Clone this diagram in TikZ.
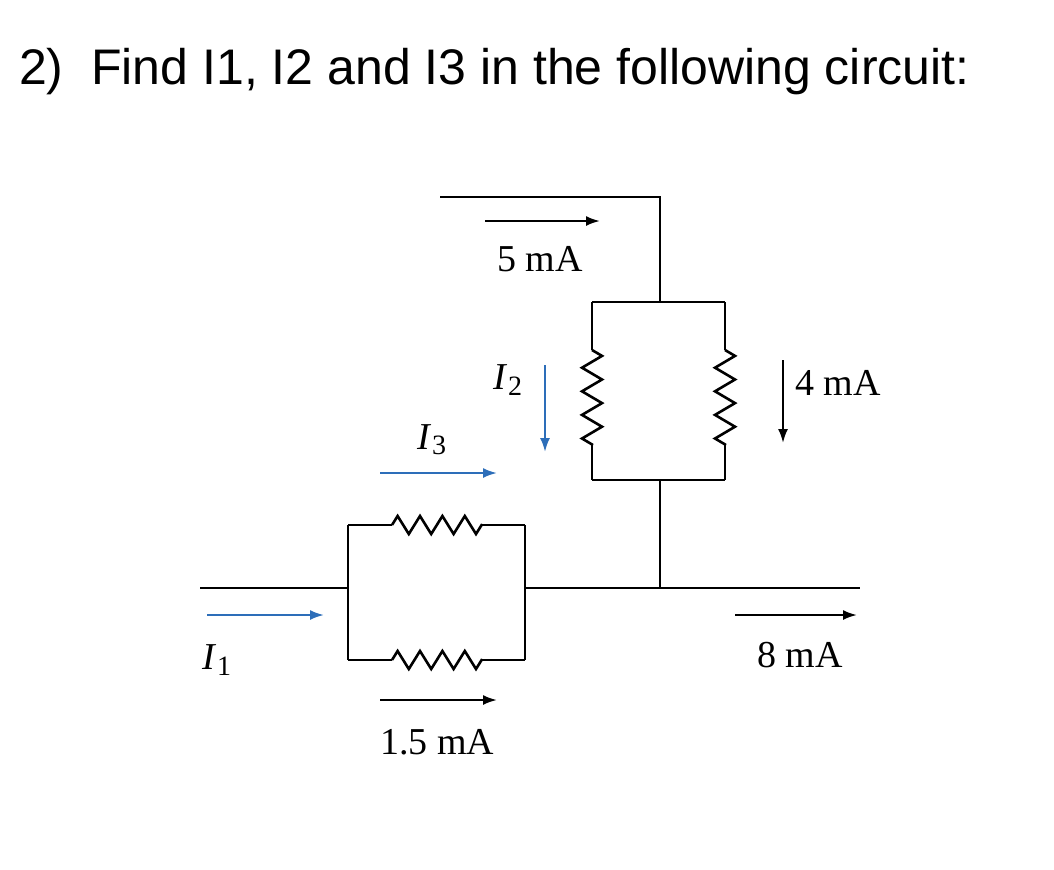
\documentclass[tikz,border=0pt]{standalone}
\usepackage{fontspec}
\setmainfont{Liberation Serif}
\newfontfamily\hsans{Liberation Sans}
\usetikzlibrary{decorations.pathmorphing,arrows.meta}
\definecolor{cblue}{RGB}{45,110,185}
\newcommand{\cur}[1]{\textit{I}\raisebox{-0.3ex}{\fontsize{14}{16}\selectfont #1}}
\begin{document}
\begin{tikzpicture}[x=0.5pt,y=-0.5pt,
  wire/.style={line width=1.3pt},
  resv/.style={line width=1.3pt,decorate,decoration={zigzag,segment length=11.8pt,amplitude=5pt}},
  resh/.style={line width=1.3pt,decorate,decoration={zigzag,segment length=11.2pt,amplitude=4.5pt}},
  cur/.style={line width=1.1pt,-{Latex[length=7pt,width=5pt]}},
  bcur/.style={cur,cblue},
  lab/.style={font=\fontsize{19}{21}\selectfont}]
\useasboundingbox (0,0) rectangle (1054,869);
\node[anchor=west,font=\hsans\fontsize{25}{30}\selectfont] (title) at (12,72) {2)\ \ Find I1, I2 and I3 in the following circuit:};
\coordinate (t0) at (440,197); \coordinate (t1) at (660,197); \coordinate (t2) at (660,302);
\coordinate (b0) at (660,480); \coordinate (b1) at (660,588);
\coordinate (L0) at (200,588); \coordinate (L1) at (348,588);
\coordinate (R0) at (525,588); \coordinate (R1) at (860,588);
\draw[wire] (t0) -- (t1) -- (t2);
\draw[wire] (592,302) -- (725,302);
\draw[wire] (592,480) -- (725,480);
\draw[wire] (592,302) -- (592,350); \draw[resv] (592,350) -- (592,445); \draw[wire] (592,445) -- (592,480);
\draw[wire] (725,302) -- (725,350); \draw[resv] (725,350) -- (725,445); \draw[wire] (725,445) -- (725,480);
\draw[wire] (b0) -- (b1);
\draw[wire] (L0) -- (L1);
\draw[wire] (R0) -- (R1);
\draw[wire] (348,525) -- (348,660);
\draw[wire] (525,525) -- (525,660);
\draw[wire] (348,525) -- (392,525); \draw[resh] (392,525) -- (482,525); \draw[wire] (482,525) -- (525,525);
\draw[wire] (348,660) -- (392,660); \draw[resh] (392,660) -- (482,660); \draw[wire] (482,660) -- (525,660);
\coordinate (a5s) at (485,221); \coordinate (a5e) at (600,221);
\draw[cur] (a5s) -- (a5e);
\node[lab] (l5) at (540,259) {5 mA};
\coordinate (a2s) at (545,365); \coordinate (a2e) at (545,452);
\draw[bcur] (a2s) -- (a2e);
\node[lab] (l2) at (508,380) {\cur{2}};
\coordinate (a4s) at (783,360); \coordinate (a4e) at (783,443);
\draw[cur] (a4s) -- (a4e);
\node[lab] (l4) at (838,383) {4 mA};
\coordinate (a3s) at (380,473); \coordinate (a3e) at (497,473);
\draw[bcur] (a3s) -- (a3e);
\node[lab] (l3) at (432,440) {\cur{3}};
\coordinate (a1s) at (207,615); \coordinate (a1e) at (324,615);
\draw[bcur] (a1s) -- (a1e);
\node[lab] (l1) at (217,660) {\cur{1}};
\coordinate (a8s) at (735,615); \coordinate (a8e) at (857,615);
\draw[cur] (a8s) -- (a8e);
\node[lab] (l8) at (800,655) {8 mA};
\coordinate (a15s) at (380,700); \coordinate (a15e) at (497,700);
\draw[cur] (a15s) -- (a15e);
\node[lab] (l15) at (437,742) {1.5 mA};
\end{tikzpicture}
\end{document}
